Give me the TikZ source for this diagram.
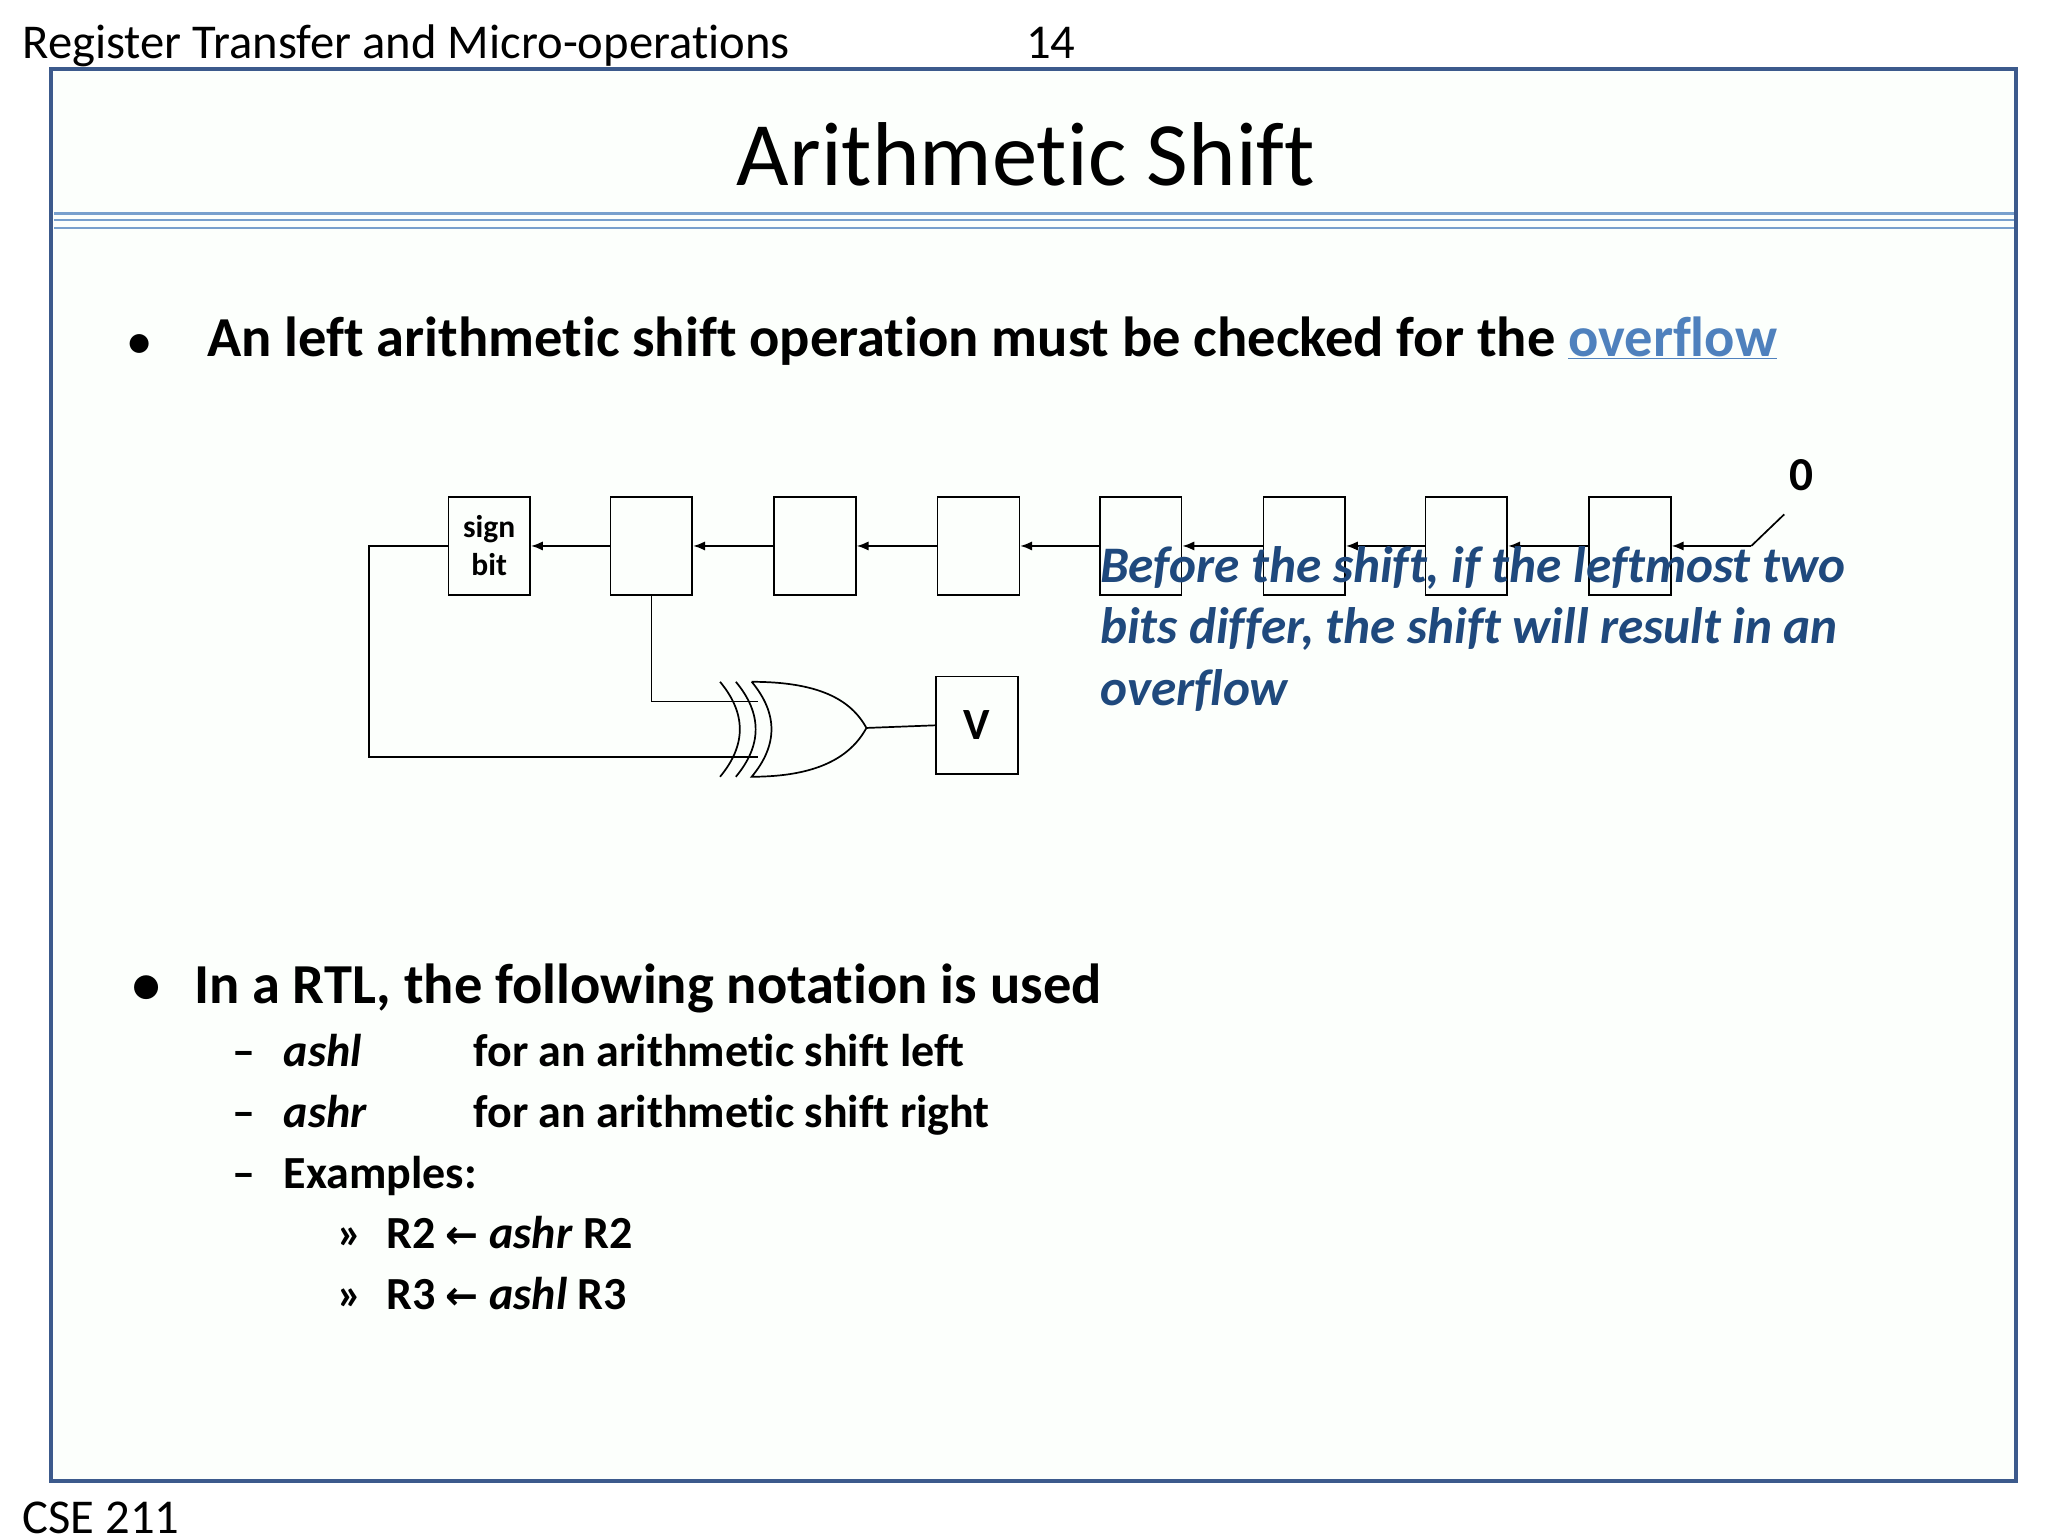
\documentclass[tikz,border=0pt]{standalone}
\usepackage{fontspec}
\setmainfont[Ligatures=NoCommon]{Carlito}
\newfontfamily\dejavu{DejaVu Sans}
\usetikzlibrary{arrows.meta}
\definecolor{frame}{RGB}{60,90,140}
\definecolor{band}{RGB}{120,160,205}
\definecolor{link}{RGB}{79,129,189}
\definecolor{note}{RGB}{31,73,125}
\tikzset{reg/.style={draw,line width=1.3pt,minimum width=62bp,minimum height=74bp,inner sep=0pt,font=\fontsize{22}{24}\selectfont\bfseries,align=center},
 wire/.style={line width=1.3pt},
 arr/.style={wire,-{Latex[length=9bp,width=7bp]}},
 txt/.style={anchor=base west,inner sep=0pt}}
\begin{document}
\begin{tikzpicture}[x=1bp,y=-1bp]
\useasboundingbox (0,0) rectangle (1553,1165);
\fill[white] (0,0) rectangle (1553,1165);
\fill[green!1!white] (39,52) rectangle (1529,1123);
\node[txt,font=\fontsize{37}{40}\selectfont] (hdr) at (17,44) {Register Transfer and Micro-operations};
\node[txt,font=\fontsize{37}{40}\selectfont] (pg) at (778,44) {14};
\node[txt,font=\fontsize{37}{40}\selectfont] (cse) at (17,1163) {CSE 211};
\draw[frame,line width=3pt] (39,52) rectangle (1529,1123);
\draw[band,line width=2pt] (41,162) -- (1527,162);
\draw[band,line width=1.2pt] (41,167) -- (1527,167);
\draw[band,line width=2pt] (41,173) -- (1527,173);
\node[font=\fontsize{69}{72}\selectfont] (title) at (778,117) {Arithmetic Shift};
\node[txt,font=\fontsize{34}{40}\selectfont\bfseries] (b1) at (97,270) {•};
\node[txt,font=\fontsize{43}{46}\selectfont\bfseries] (t1) at (157,270) {An left arithmetic shift operation must be checked for the \textcolor{link}{\underline{overflow}}};
% registers
\foreach \i/\x in {1/371,2/494,3/618,4/742,5/865,6/989,7/1112,8/1236}
  \node[reg] (r\i) at (\x,414) {};
\node[font=\fontsize{24}{29}\selectfont\bfseries,align=center] (sb) at (r1) {sign\\bit};
\foreach \a/\b in {2/1,3/2,4/3,5/4,6/5,7/6,8/7}
  \draw[arr] (r\a.west) -- (r\b.east);
\coordinate (in) at (1328,414);
\coordinate (in2) at (1353,390);
\draw[arr] (in) -- (r8.east);
\draw[wire] (in) -- (in2);
\node[font=\fontsize{36}{38}\selectfont\bfseries] (zero) at (1366,360) {0};
% xor
\draw[wire] (570,517) .. controls (620,517) and (645,530) .. (657,552) .. controls (645,574) and (620,589) .. (570,589) .. controls (590,565) and (590,541) .. (570,517);
\draw[wire] (558,517) .. controls (578,541) and (578,565) .. (558,589);
\draw[wire] (546,517) .. controls (566,541) and (566,565) .. (546,589);
\coordinate (g1) at (494,532);
\coordinate (g2) at (280,414);
\coordinate (g3) at (280,574);
\draw[wire] (r2.south) -- (g1) -- (575,532);
\draw[wire] (r1.west) -- (g2) -- (g3) -- (575,574);
\node[reg,font=\fontsize{34}{36}\selectfont\bfseries] (v) at (741,550) {V};
\draw[wire] (657,552) -- (v.west);
\node[txt,font=\fontsize{39}{47}\selectfont\bfseries\itshape,text=note,align=left,anchor=base west] (note) at (834,535) {Before the shift, if the leftmost two\\bits differ, the shift will result in an\\overflow};
% bullet 2
\node[txt,font=\fontsize{43}{46}\selectfont\bfseries] (b2) at (100,761) {•};
\node[txt,font=\fontsize{43}{46}\selectfont\bfseries] (t2) at (147,761) {In a RTL, the following notation is used};
\foreach \y/\a/\b in {809/ashl/for an arithmetic shift left,855/ashr/for an arithmetic shift right}{
  \node[txt,font=\fontsize{35}{38}\selectfont\bfseries] at (176,\y) {–};
  \node[txt,font=\fontsize{35}{38}\selectfont\bfseries\itshape] at (215,\y) {\a};
  \node[txt,font=\fontsize{35}{38}\selectfont\bfseries] at (359,\y) {\b};}
\node[txt,font=\fontsize{35}{38}\selectfont\bfseries] (d3) at (176,901) {–};
\node[txt,font=\fontsize{35}{38}\selectfont\bfseries] (ex) at (215,901) {Examples:};
\node[txt,font=\fontsize{35}{38}\selectfont\bfseries] (e1) at (256,947) {»\hspace{18bp}R2 {\dejavu\fontsize{30}{32}\selectfont\bfseries ←} \textit{ashr} R2};
\node[txt,font=\fontsize{35}{38}\selectfont\bfseries] (e2) at (256,993) {»\hspace{18bp}R3 {\dejavu\fontsize{30}{32}\selectfont\bfseries ←} \textit{ashl} R3};
\end{tikzpicture}
\end{document}
